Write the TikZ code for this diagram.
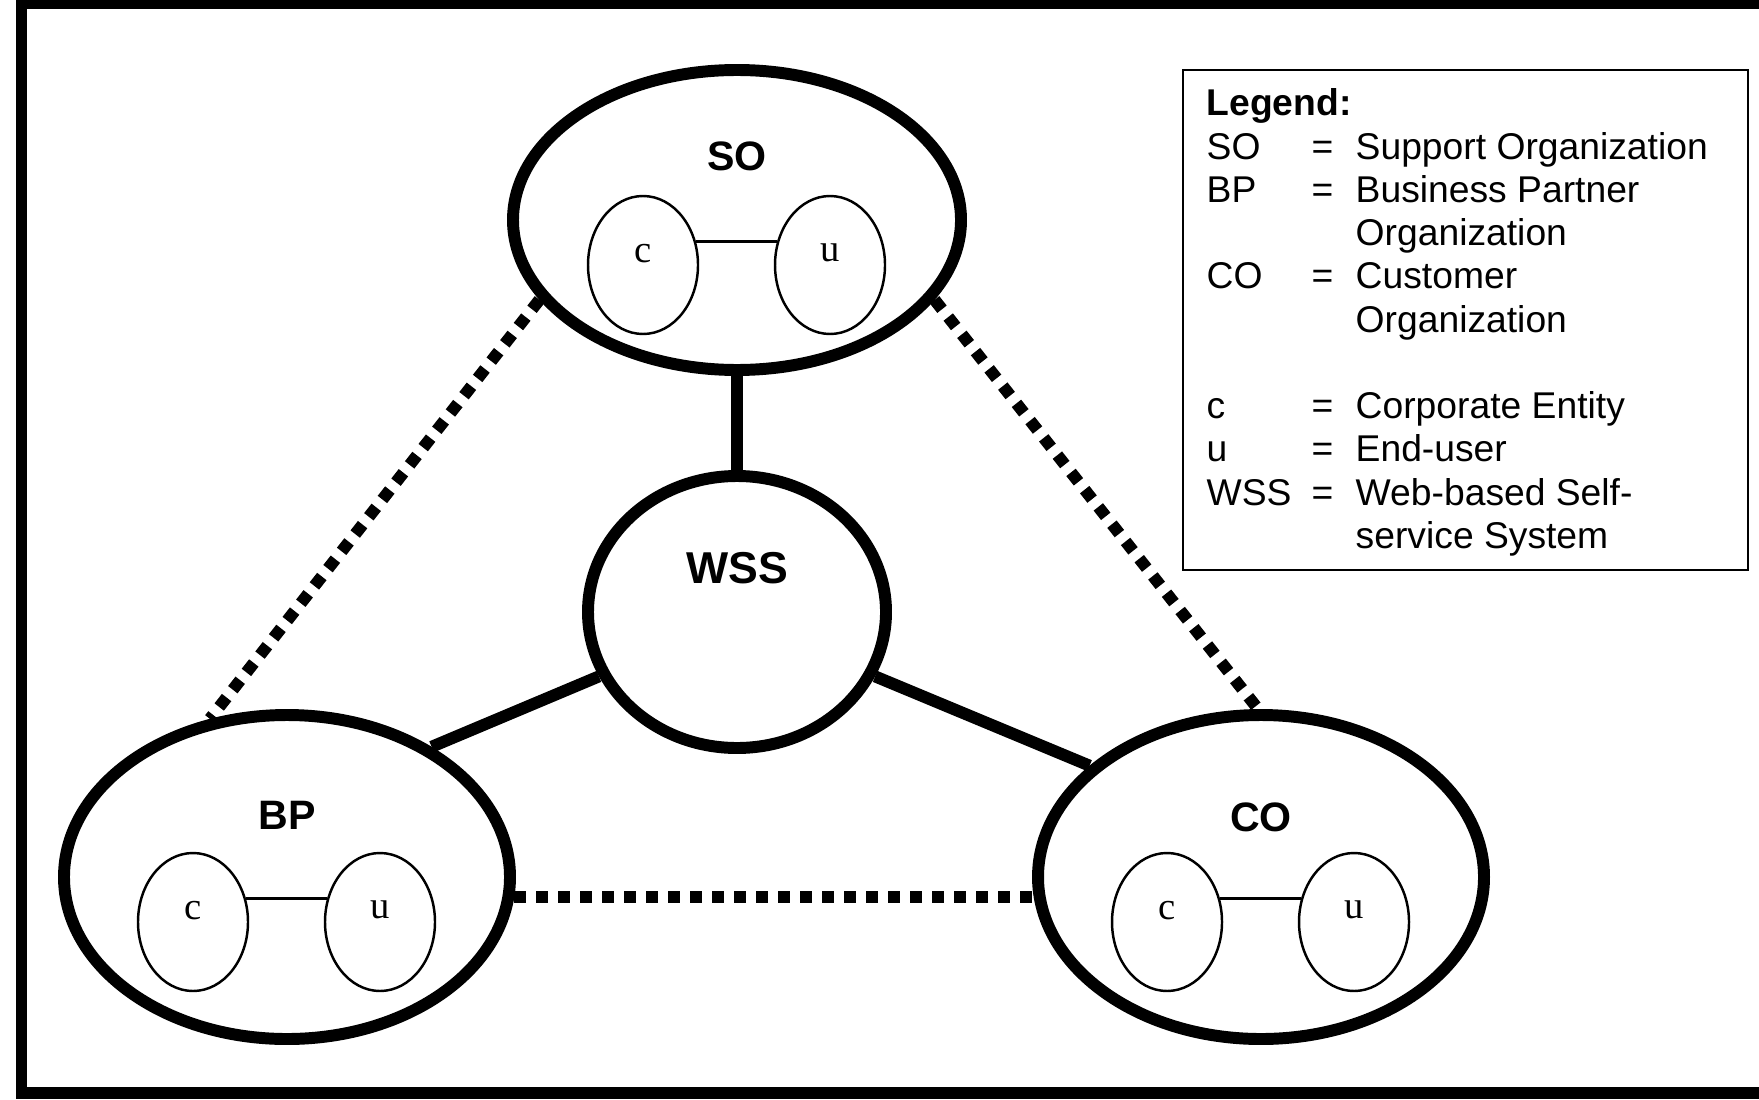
\documentclass[tikz,border=0pt]{standalone}
\usepackage{fontspec}
\setmainfont{Liberation Sans}
\newfontfamily\entfont{Liberation Serif}
\usetikzlibrary{shapes.geometric}

\begin{document}
\begin{tikzpicture}[x=10mm, y=10mm,
    outerframe/.style={line width=3.4pt},
    orgnode/.style={ellipse, draw, line width=3.4pt, minimum width=4.46cm, minimum height=3.24cm, inner sep=0pt},
    hubnode/.style={ellipse, draw, line width=3.4pt, minimum width=2.98cm, minimum height=2.72cm, inner sep=0pt},
    entity/.style={ellipse, draw, line width=0.7pt, minimum width=1.1cm, minimum height=1.38cm, inner sep=0pt, text depth=0.24cm, font=\entfont\fontsize{11}{13}\selectfont},
    orgname/.style={inner sep=0pt, font=\bfseries\fontsize{11.7}{14}\selectfont},
    link/.style={line width=3.4pt},
    weaklink/.style={line width=3.4pt, dash pattern=on 0.12cm off 0.1cm},
    tie/.style={line width=0.7pt},
    legendbox/.style={draw, line width=0.8pt, minimum width=5.65cm, minimum height=5cm, inner sep=0pt},
  ]
	% Bildbereich und Rahmen
	\useasboundingbox (0,0) rectangle (17.59,10.99);
	\draw[outerframe] (0.215,0.06) rectangle (17.66,10.96);
	% Organisationen und WSS
	\node[orgnode, minimum width=4.48cm, minimum height=3.0cm] (so) at (7.37,8.79) {};
	\node[hubnode] (wss) at (7.37,4.87) {};
	\node[orgnode] (bp) at (2.87,2.22) {};
	\node[orgnode] (co) at (12.61,2.22) {};
	% Beschriftung
	\node[orgname] (so-name) at ([yshift=0.64cm]so.center) {SO};
	\node[orgname] (bp-name) at ([yshift=0.62cm]bp.center) {BP};
	\node[orgname] (co-name) at ([yshift=0.60cm]co.center) {CO};
	\node[orgname, font=\bfseries\fontsize{12.7}{15}\selectfont] (wss-name) at ([yshift=0.44cm]wss.center) {WSS};
	% c und u in jeder Organisation
	\foreach \org in {so,bp,co} {
		\node[entity] (\org-c) at ([xshift=-0.94cm, yshift=-0.45cm]\org.center) {c};
		\node[entity] (\org-u) at ([xshift=0.93cm, yshift=-0.45cm]\org.center) {u};
		\draw[tie] (\org-c.24) -- (\org-u.156);
	}
	% Verbindungen
	\draw[link] (so) -- (wss);
	\draw[link] (wss.205) -- (bp.42);
	\draw[link] (wss.335) -- (co.147);
	\draw[weaklink] (so.202) -- (bp.116);
	\draw[weaklink] (so.338) -- (co.91);
	\draw[weaklink] (bp.-5) -- (co.185);
	% Legende
	\node[legendbox] (legend) at (14.655,7.79) {};
	\node[anchor=base west, inner sep=0pt, font=\fontsize{10.6}{12.3}\selectfont] (legend-text) at (12.06,9.83) {%
		\begin{tabular}[t]{@{}p{1.05cm}@{}p{0.44cm}@{}l@{}}
		\multicolumn{3}{@{}l}{\textbf{Legend:}}\\
		SO & = & Support Organization\\
		BP & = & Business Partner\\
		& & Organization\\
		CO & = & Customer\\
		& & Organization\\
		& & \\
		c & = & Corporate Entity\\
		u & = & End-user\\
		WSS & = & Web-based Self-\\
		& & service System
		\end{tabular}};
\end{tikzpicture}
\end{document}
